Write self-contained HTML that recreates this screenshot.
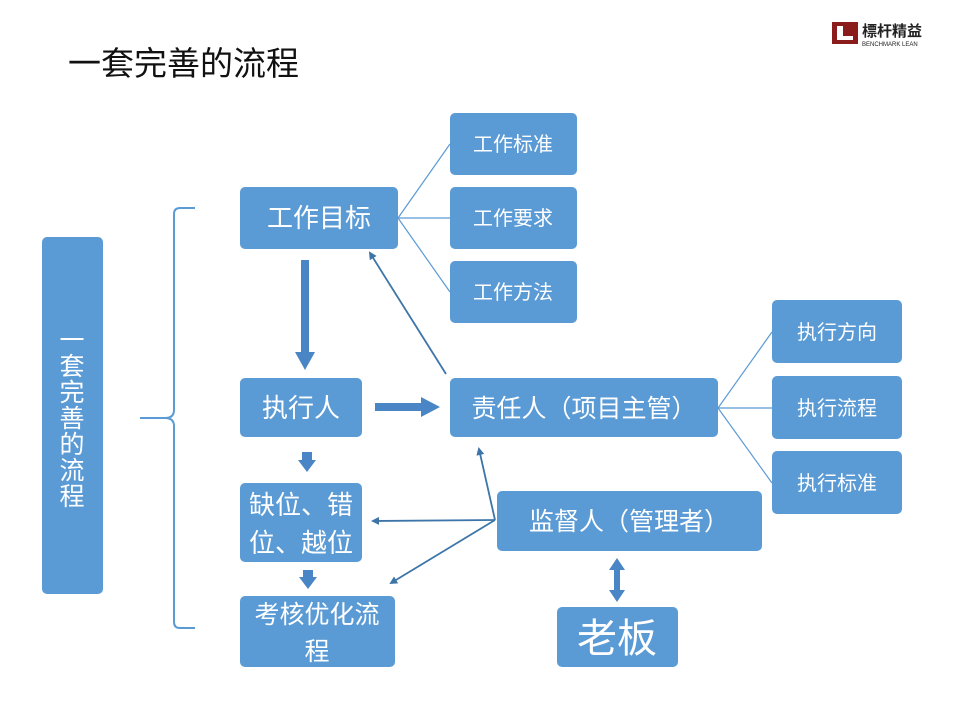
<!DOCTYPE html>
<html><head><meta charset="utf-8"><style>
html,body{margin:0;padding:0;background:#fff;}
svg{display:block;font-family:"Liberation Sans","Noto Sans CJK SC",sans-serif;}
</style></head><body>
<svg width="960" height="720" viewBox="0 0 960 720" xmlns="http://www.w3.org/2000/svg">
<defs>
<marker id="ah" markerWidth="8" markerHeight="8" refX="6" refY="4" orient="auto" markerUnits="userSpaceOnUse"><path d="M0,0 L8,4 L0,8 z" fill="#3e75a8"/></marker>
</defs>
<text x="68" y="75" font-size="33" fill="#111">一套完善的流程</text>
<rect x="832" y="22" width="26" height="22" fill="#8b1c1c"/>
<path d="M837,26 L843,26 L843,36 L853,36 L853,40 L837,40 z" fill="#fff"/>
<text x="862" y="36" font-size="15" font-weight="bold" fill="#222">標杆精益</text>
<text x="862" y="46" font-size="6" fill="#222">BENCHMARK LEAN</text>
<g fill="#5b9bd5">
<rect x="42" y="237" width="61" height="357" rx="5"/>
<rect x="240" y="187" width="158" height="62" rx="5"/>
<rect x="450" y="113" width="127" height="62" rx="5"/>
<rect x="450" y="187" width="127" height="62" rx="5"/>
<rect x="450" y="261" width="127" height="62" rx="5"/>
<rect x="240" y="378" width="122" height="59" rx="5"/>
<rect x="450" y="378" width="268" height="59" rx="5"/>
<rect x="772" y="300" width="130" height="63" rx="5"/>
<rect x="772" y="376" width="130" height="63" rx="5"/>
<rect x="772" y="451" width="130" height="63" rx="5"/>
<rect x="240" y="483" width="122" height="79" rx="5"/>
<rect x="497" y="491" width="265" height="60" rx="5"/>
<rect x="240" y="596" width="155" height="71" rx="5"/>
<rect x="557" y="607" width="121" height="60" rx="5"/>
</g>
<g fill="#fff" text-anchor="middle">
<text x="72" y="349" font-size="25">一</text>
<text x="72" y="375" font-size="25">套</text>
<text x="72" y="401" font-size="25">完</text>
<text x="72" y="427" font-size="25">善</text>
<text x="72" y="453" font-size="25">的</text>
<text x="72" y="479" font-size="25">流</text>
<text x="72" y="505" font-size="25">程</text>
<text x="319" y="227" font-size="26">工作目标</text>
<text x="513" y="151" font-size="20">工作标准</text>
<text x="513" y="225" font-size="20">工作要求</text>
<text x="513" y="299" font-size="20">工作方法</text>
<text x="301" y="417" font-size="26">执行人</text>
<text x="584" y="417" font-size="25">责任人（项目主管）</text>
<text x="837" y="339" font-size="20">执行方向</text>
<text x="837" y="415" font-size="20">执行流程</text>
<text x="837" y="490" font-size="20">执行标准</text>
<text x="301" y="514" font-size="26">缺位、错</text>
<text x="301" y="552" font-size="26">位、越位</text>
<text x="629" y="530" font-size="25">监督人（管理者）</text>
<text x="317" y="623" font-size="25">考核优化流</text>
<text x="317" y="660" font-size="25">程</text>
<text x="617" y="652" font-size="40">老板</text>
</g>
<path d="M195,208 L180,208 Q174,208 174,214 L174,410 Q174,418 165,418 L140,418 M165,418 Q174,418 174,426 L174,622 Q174,628 180,628 L195,628" fill="none" stroke="#5b9bd5" stroke-width="2"/>
<g stroke="#5b9bd5" stroke-width="1.2" fill="none">
<path d="M398,218 L450,144 M398,218 L450,218 M398,218 L450,292"/>
<path d="M718,408 L772,332 M718,408 L772,408 M718,408 L772,483"/>
</g>
<g fill="#4a86c5">
<rect x="301" y="260" width="8" height="94"/><path d="M295,352 L315,352 L305,370 z"/>
<rect x="375" y="403" width="48" height="8"/><path d="M421,397 L440,407 L421,417 z"/>
<rect x="302" y="452" width="10" height="9"/><path d="M298,460 L316,460 L307,472 z"/>
<rect x="303" y="570" width="10" height="8"/><path d="M299,577 L317,577 L308,589 z"/>
<rect x="614" y="568" width="6" height="24"/><path d="M609,570 L617,558 L625,570 z M609,590 L617,602 L625,590 z"/>
</g>
<g stroke="#3e75a8" stroke-width="1.8" fill="none" marker-end="url(#ah)">
<line x1="446" y1="374" x2="370" y2="253"/>
<line x1="495" y1="520" x2="479" y2="449"/>
<line x1="495" y1="520" x2="373" y2="521"/>
<line x1="495" y1="520" x2="391" y2="583"/>
</g>
</svg>
</body></html>
